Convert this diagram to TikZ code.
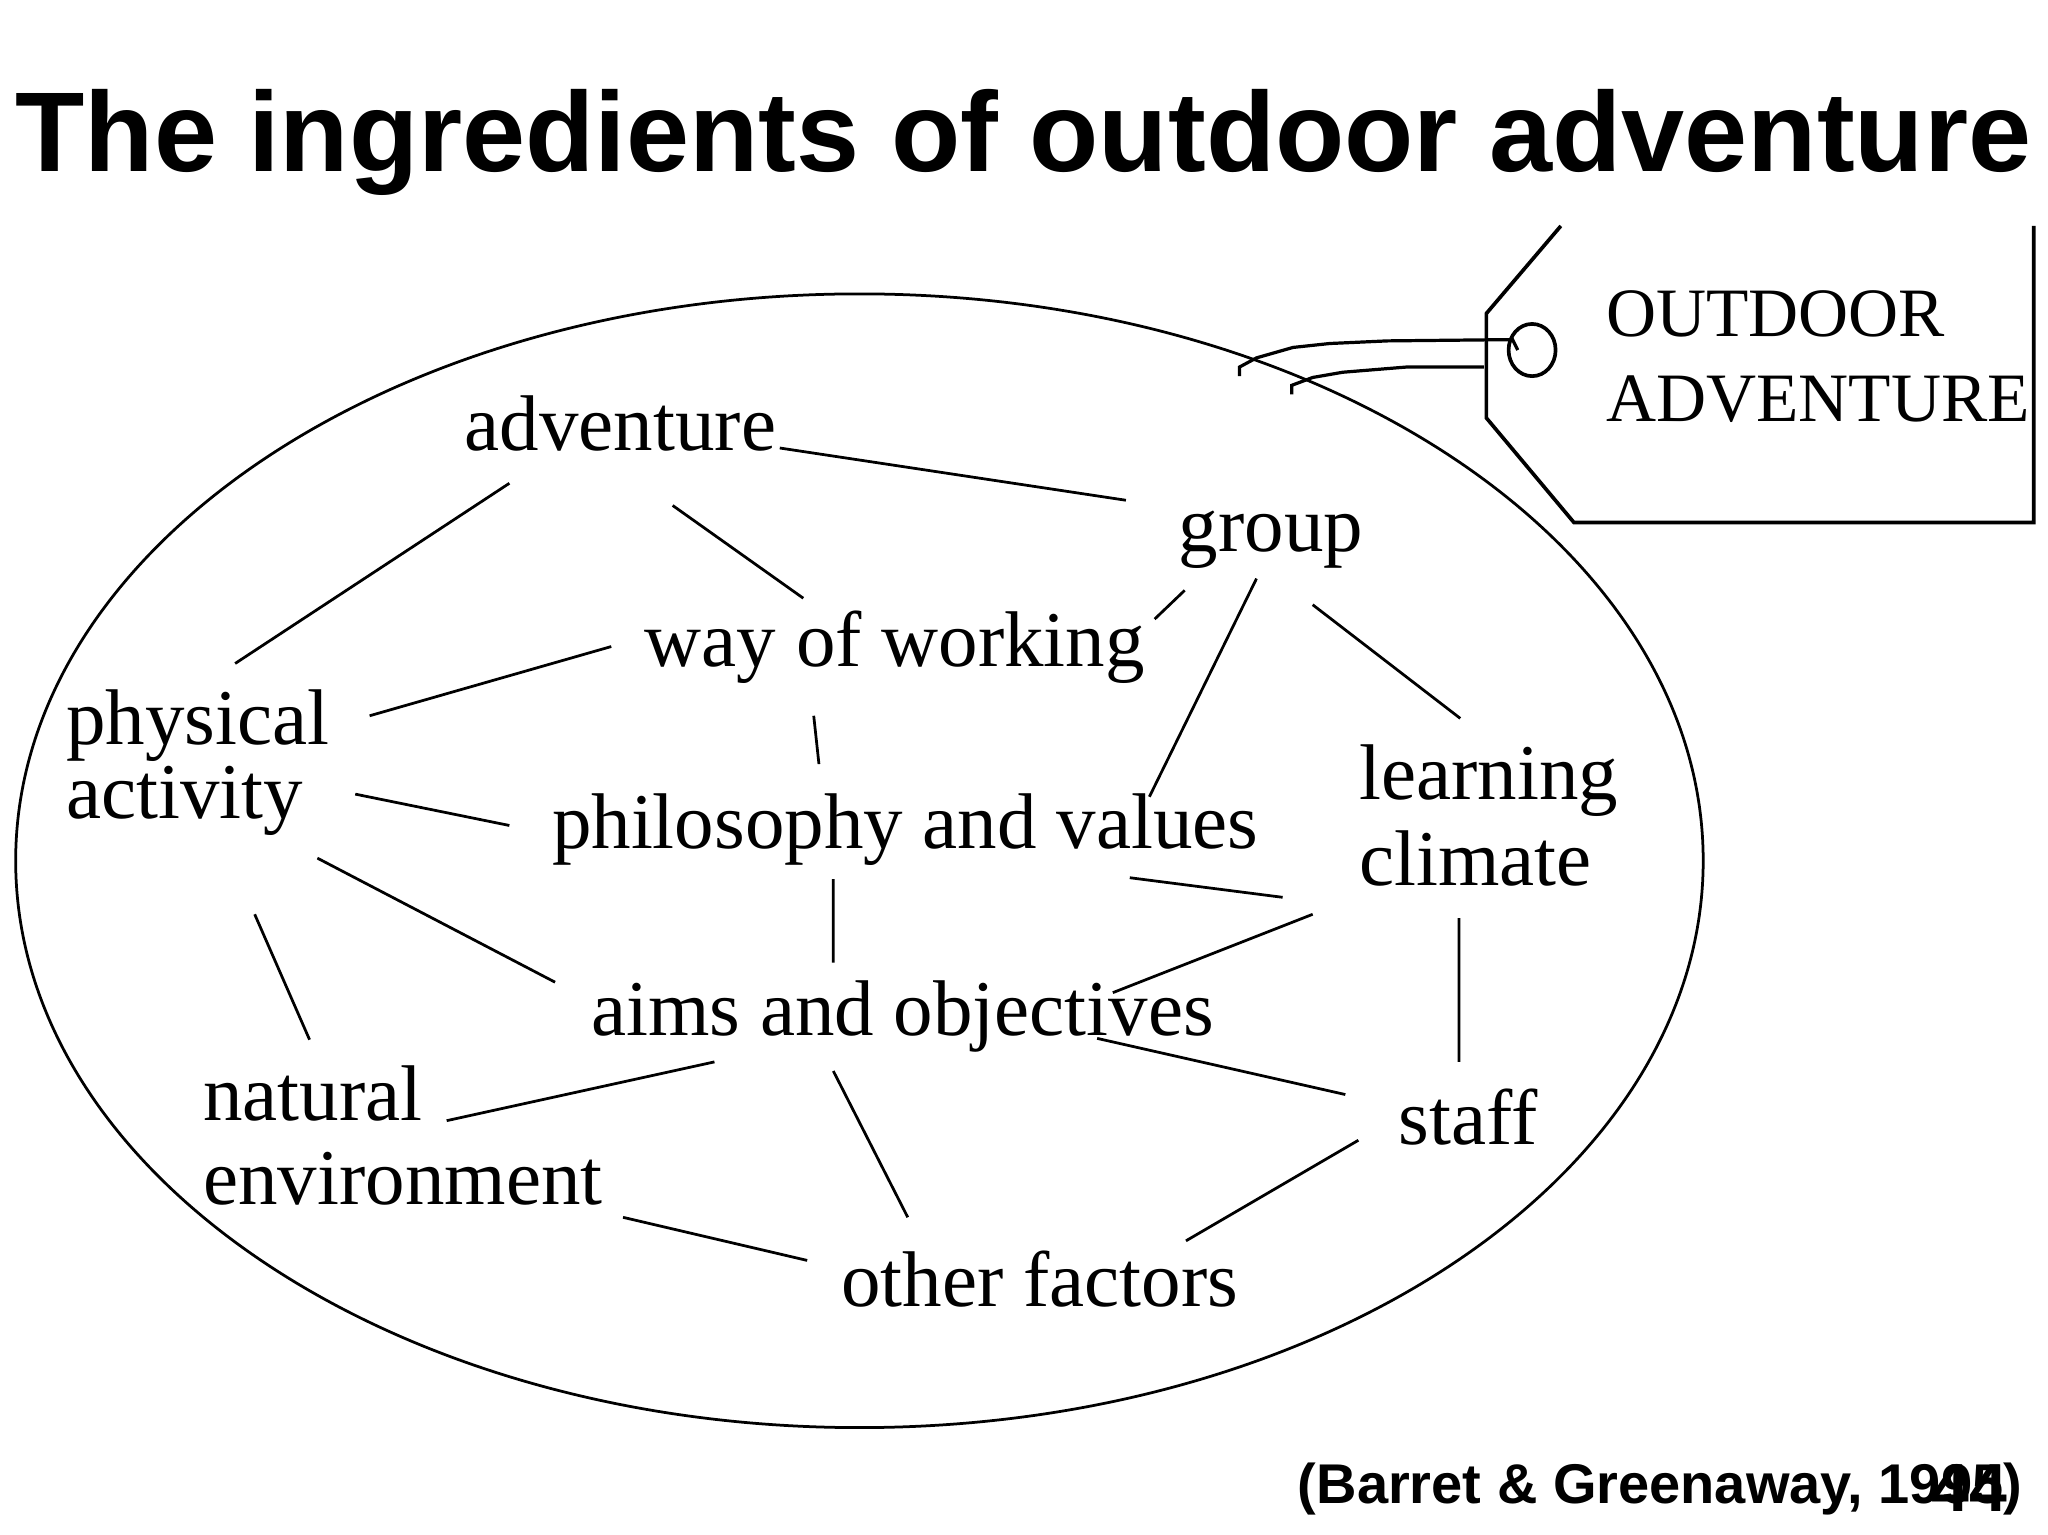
\documentclass[tikz,border=0pt]{standalone}
\usepackage{fontspec}
\setmainfont{Liberation Serif}
\newfontfamily\headfont{Liberation Sans}
\tikzset{
  item/.style={font=\fontsize{17.2}{20}\selectfont, inner sep=0pt, anchor=base},
  block/.style={item, align=left, anchor=base west},
  link/.style={line width=0.6pt},
  head/.style={font=\headfont\bfseries\fontsize{24.7}{28}\selectfont, inner sep=0pt, anchor=base},
  note/.style={font=\headfont\bfseries\fontsize{12.2}{14}\selectfont, inner sep=0pt, anchor=base west},
}
\begin{document}
\begin{tikzpicture}
    \useasboundingbox (0,0) rectangle (15.68,-11.75);
    \node[head] (title) at (7.835,-1.31) {The ingredients of outdoor adventure};
    \draw[link] (6.58,-6.59) ellipse [x radius=6.46, y radius=4.34];
    % label tag
    \draw[line width=0.8pt] (11.95,-1.73) -- (11.38,-2.40) -- (11.38,-3.20) -- (12.05,-4.00) -- (15.57,-4.00) -- (15.57,-1.73);
    \draw[line width=0.8pt] (11.73,-2.68) ellipse [x radius=0.18, y radius=0.20];
    \draw[line width=0.7pt] (9.49,-2.88) -- (9.49,-2.81) -- (9.62,-2.74) -- (9.90,-2.66) -- (10.18,-2.63) -- (10.62,-2.61) -- (11.58,-2.60) -- (11.62,-2.68);
    \draw[line width=0.7pt] (9.89,-3.02) -- (9.89,-2.95) -- (10.05,-2.89) -- (10.28,-2.85) -- (10.77,-2.81) -- (11.36,-2.81);
    \node[block, font=\fontsize{15.1}{18.5}\selectfont] (tag) at (12.29,-3.23) {OUTDOOR\\ADVENTURE};
    % ingredients
    \node[item] (adv) at (4.75,-3.45) {adventure};
    \node[item] (grp) at (9.73,-4.22) {group};
    \node[item] (way) at (6.85,-5.10) {way of working};
    \node[block, font=\fontsize{17.2}{16.2}\selectfont] (phys) at (0.50,-6.27) {physical\\activity};
    \node[item] (phil) at (6.93,-6.50) {philosophy and values};
    \node[block, font=\fontsize{17.2}{18.8}\selectfont] (learn) at (10.40,-6.78) {learning\\climate};
    \node[item] (aims) at (6.91,-7.93) {aims and objectives};
    \node[block, font=\fontsize{17.2}{18.2}\selectfont] (nat) at (1.55,-9.22) {natural\\environment};
    \node[item] (staff) at (11.24,-8.76) {staff};
    \node[item] (other) at (7.96,-10.00) {other factors};
    % links
    \draw[link] ([shift={(1.22,0.02)}]adv.base) -- ([shift={(-1.11,0.39)}]grp.base);
    \draw[link] ([shift={(-0.85,-0.25)}]adv.base) -- ([shift={(1.30,1.19)}]phys.base west);
    \draw[link] ([shift={(0.40,-0.42)}]adv.base) -- ([shift={(-0.70,0.52)}]way.base);
    \draw[link] ([shift={(1.99,0.36)}]way.base) -- ([shift={(-0.66,-0.30)}]grp.base);
    \draw[link] ([shift={(-0.11,-0.21)}]grp.base) -- ([shift={(1.87,0.40)}]phil.base);
    \draw[link] ([shift={(0.32,-0.41)}]grp.base) -- ([shift={(0.78,1.28)}]learn.base west);
    \draw[link] ([shift={(2.33,0.79)}]phys.base west) -- ([shift={(-2.17,0.15)}]way.base);
    \draw[link] ([shift={(-0.62,-0.38)}]way.base) -- ([shift={(-0.66,0.65)}]phil.base);
    \draw[link] ([shift={(2.22,0.19)}]phys.base west) -- ([shift={(-3.03,0.18)}]phil.base);
    \draw[link] ([shift={(1.93,-0.30)}]phys.base west) -- ([shift={(-2.66,0.41)}]aims.base);
    \draw[link] ([shift={(1.45,-0.73)}]phys.base west) -- ([shift={(0.82,1.26)}]nat.base west);
    \draw[link] ([shift={(-0.55,-0.23)}]phil.base) -- ([shift={(-0.53,0.56)}]aims.base);
    \draw[link] ([shift={(1.72,-0.22)}]phil.base) -- ([shift={(-0.58,-0.09)}]learn.base west);
    \draw[link] ([shift={(-0.35,-0.22)}]learn.base west) -- ([shift={(1.61,0.33)}]aims.base);
    \draw[link] ([shift={(0.77,-0.25)}]learn.base west) -- ([shift={(-0.07,0.63)}]staff.base);
    \draw[link] ([shift={(1.49,-0.02)}]aims.base) -- ([shift={(-0.94,0.38)}]staff.base);
    \draw[link] ([shift={(-1.44,-0.20)}]aims.base) -- ([shift={(1.87,0.64)}]nat.base west);
    \draw[link] ([shift={(-0.53,-0.27)}]aims.base) -- ([shift={(-1.01,0.68)}]other.base);
    \draw[link] ([shift={(3.22,-0.10)}]nat.base west) -- ([shift={(-1.78,0.35)}]other.base);
    \draw[link] ([shift={(-0.84,0.03)}]staff.base) -- ([shift={(1.12,0.50)}]other.base);
    % source
    \node[note] (cite) at (9.93,-11.51) {(Barret \& Greenaway, 1995)};
    \node[note, font=\headfont\bfseries\fontsize{14.8}{17}\selectfont] (page) at (14.78,-11.57) {44};
\end{tikzpicture}
\end{document}
